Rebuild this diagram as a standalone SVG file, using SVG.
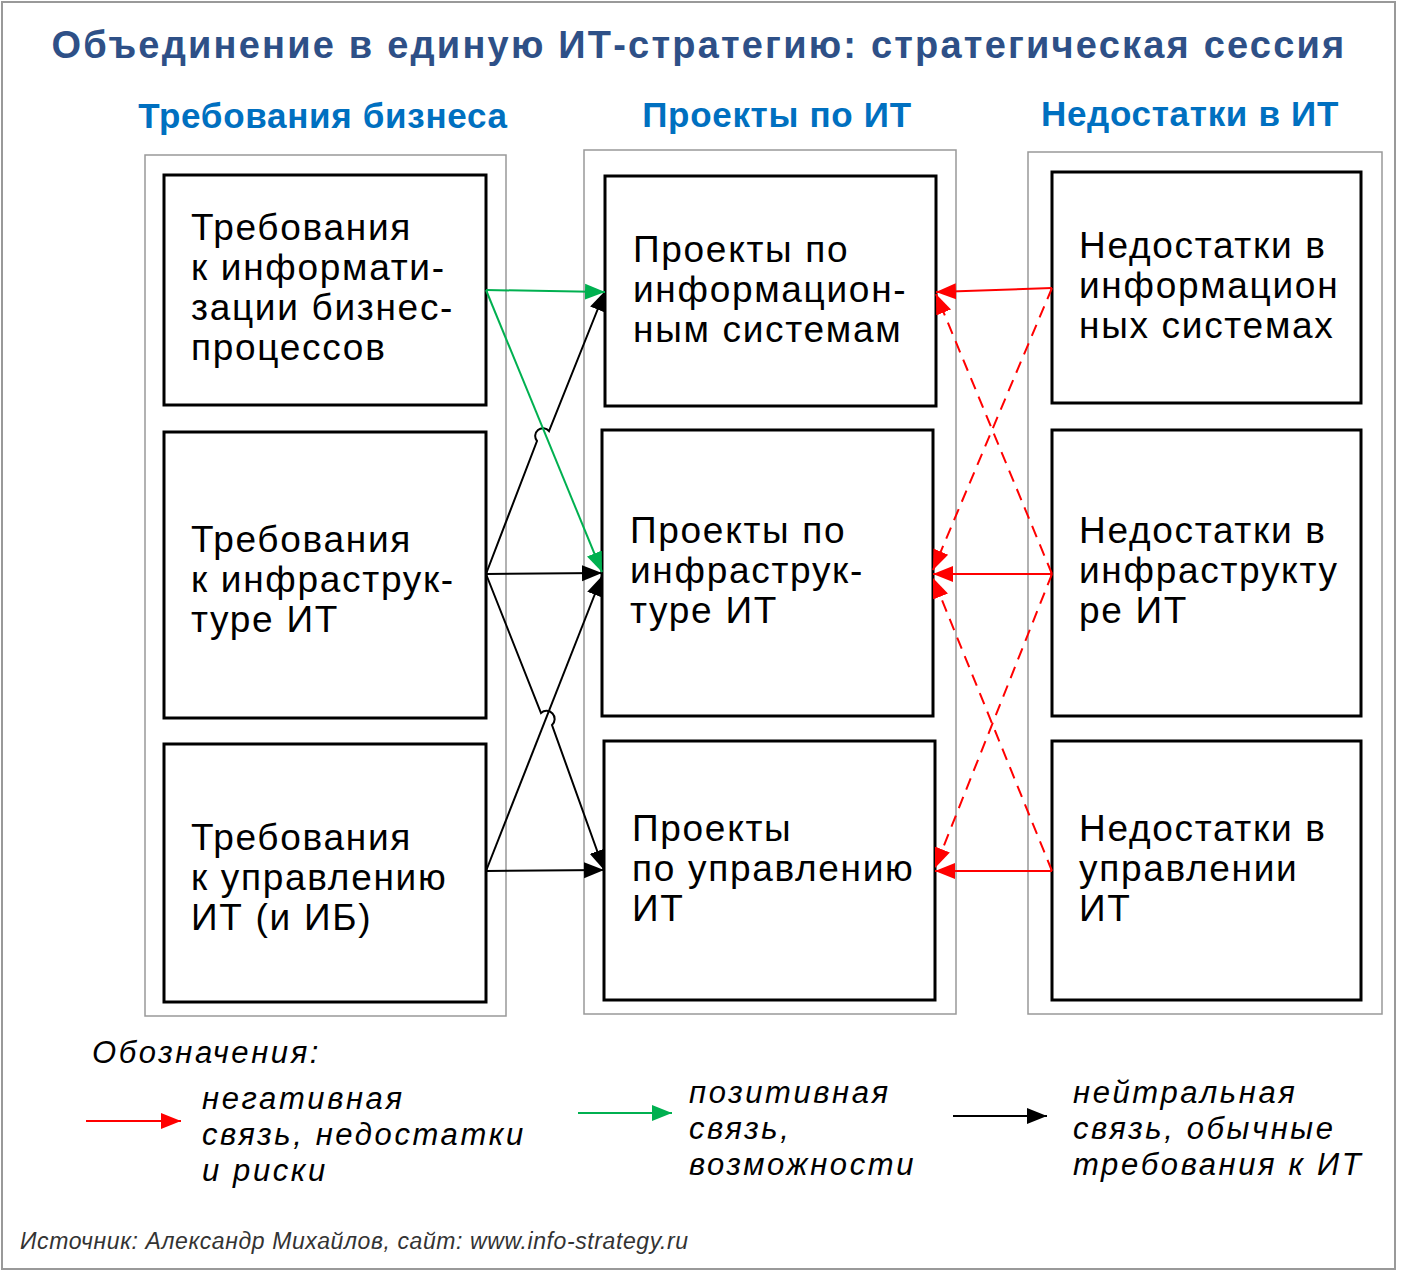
<svg xmlns="http://www.w3.org/2000/svg" width="1410" height="1272" viewBox="0 0 1410 1272">
<style>
.box{fill:#fff;stroke:#000;stroke-width:3}
.col{fill:#fff;stroke:#999;stroke-width:1.5}
.t{font-family:"Liberation Sans",Arial,sans-serif;font-size:37px;letter-spacing:1.7px;fill:#000}
.h{font-family:"Liberation Sans",Arial,sans-serif;font-size:35px;letter-spacing:0.7px;font-weight:bold;fill:#0070C0}
.lg{font-family:"Liberation Sans",Arial,sans-serif;font-size:31px;letter-spacing:2.6px;font-style:italic;fill:#000}
.k{stroke:#000;stroke-width:2;fill:none}
.g{stroke:#00B050;stroke-width:2;fill:none}
.r{stroke:#FF0000;stroke-width:2;fill:none}
.rd{stroke:#FF0000;stroke-width:2;fill:none;stroke-dasharray:12,8}
</style>
<defs>
<marker id="ag" viewBox="0 0 10 10" refX="10" refY="5" markerWidth="20" markerHeight="20" orient="auto" markerUnits="userSpaceOnUse"><path d="M0,1 L10,5 L0,9 z" fill="#00B050"/></marker>
<marker id="ab" viewBox="0 0 10 10" refX="10" refY="5" markerWidth="20" markerHeight="20" orient="auto" markerUnits="userSpaceOnUse"><path d="M0,1 L10,5 L0,9 z" fill="#000"/></marker>
<marker id="ar" viewBox="0 0 10 10" refX="10" refY="5" markerWidth="20" markerHeight="20" orient="auto" markerUnits="userSpaceOnUse"><path d="M0,1 L10,5 L0,9 z" fill="#FF0000"/></marker>
</defs>
<rect x="0" y="0" width="1410" height="1272" fill="#fff"/>
<rect x="2" y="2" width="1393" height="1267" fill="none" stroke="#999" stroke-width="2"/>
<text x="699" y="58" text-anchor="middle" style="font-family:'Liberation Sans',Arial,sans-serif;font-size:38px;letter-spacing:2.2px;font-weight:bold;fill:#2E5087">Объединение в единую ИТ-стратегию: стратегическая сессия</text>
<text x="323" y="128" text-anchor="middle" class="h">Требования бизнеса</text>
<text x="777" y="127" text-anchor="middle" class="h">Проекты по ИТ</text>
<text x="1190" y="126" text-anchor="middle" class="h">Недостатки в ИТ</text>
<rect class="col" x="145" y="155" width="361" height="861"/>
<rect class="col" x="584" y="150" width="372" height="864"/>
<rect class="col" x="1028" y="152" width="354" height="862"/>
<g id="L1"><rect class="box" x="164" y="175" width="322" height="230"/><text class="t" x="191" y="240">Требования</text><text class="t" x="191" y="280">к информати-</text><text class="t" x="191" y="320">зации бизнес-</text><text class="t" x="191" y="360">процессов</text></g>
<g id="L2"><rect class="box" x="164" y="432" width="322" height="286"/><text class="t" x="191" y="552">Требования</text><text class="t" x="191" y="592">к инфраструк-</text><text class="t" x="191" y="632">туре ИТ</text></g>
<g id="L3"><rect class="box" x="164" y="744" width="322" height="258"/><text class="t" x="191" y="850">Требования</text><text class="t" x="191" y="890">к управлению</text><text class="t" x="191" y="930">ИТ (и ИБ)</text></g>
<g id="M1"><rect class="box" x="605" y="176" width="331" height="230"/><text class="t" x="633" y="262">Проекты по</text><text class="t" x="633" y="302">информацион-</text><text class="t" x="633" y="342">ным системам</text></g>
<g id="M2"><rect class="box" x="602" y="430" width="331" height="286"/><text class="t" x="630" y="543">Проекты по</text><text class="t" x="630" y="583">инфраструк-</text><text class="t" x="630" y="623">туре ИТ</text></g>
<g id="M3"><rect class="box" x="604" y="741" width="331" height="259"/><text class="t" x="632" y="841">Проекты</text><text class="t" x="632" y="881">по управлению</text><text class="t" x="632" y="921">ИТ</text></g>
<g id="R1"><rect class="box" x="1052" y="172" width="309" height="231"/><text class="t" x="1079" y="258">Недостатки в</text><text class="t" x="1079" y="298">информацион</text><text class="t" x="1079" y="338">ных системах</text></g>
<g id="R2"><rect class="box" x="1052" y="430" width="309" height="286"/><text class="t" x="1079" y="543">Недостатки в</text><text class="t" x="1079" y="583">инфраструкту</text><text class="t" x="1079" y="623">ре ИТ</text></g>
<g id="R3"><rect class="box" x="1052" y="741" width="309" height="259"/><text class="t" x="1079" y="841">Недостатки в</text><text class="t" x="1079" y="881">управлении</text><text class="t" x="1079" y="921">ИТ</text></g>
<g id="connectors">
<path class="k" d="M486,574 L537,441 A7,7 0 0 1 549,431 L605,291" marker-end="url(#ab)"/>
<path class="k" d="M486,574 L602,573" marker-end="url(#ab)"/>
<path class="k" d="M486,574 L541,713 A7,7 0 0 1 552,725 L604,870" marker-end="url(#ab)"/>
<path class="k" d="M486,871 L602,576" marker-end="url(#ab)"/>
<path class="k" d="M486,871 L604,870" marker-end="url(#ab)"/>
<path class="g" d="M486,290 L605,292" marker-end="url(#ag)"/>
<path class="g" d="M486,290 L602,572" marker-end="url(#ag)"/>
<path class="r" d="M1052,288 L936,292" marker-end="url(#ar)"/>
<path class="r" d="M1052,574 L933,574" marker-end="url(#ar)"/>
<path class="r" d="M1052,871 L935,871" marker-end="url(#ar)"/>
<path class="rd" d="M1052,288 L933,570" marker-end="url(#ar)"/>
<path class="rd" d="M1052,574 L936,294" marker-end="url(#ar)"/>
<path class="rd" d="M1052,574 L935,868" marker-end="url(#ar)"/>
<path class="rd" d="M1052,871 L933,578" marker-end="url(#ar)"/>
<path class="r" d="M86,1121 L181,1121" marker-end="url(#ar)"/>
<path class="g" d="M578,1113 L672,1113" marker-end="url(#ag)"/>
<path class="k" d="M953,1116 L1047,1116" marker-end="url(#ab)"/>
</g>
<g id="legend">
<text class="lg" x="92" y="1063">Обозначения:</text>
<text class="lg" x="202" y="1109">негативная</text><text class="lg" x="202" y="1145">связь, недостатки</text><text class="lg" x="202" y="1181">и риски</text>
<text class="lg" x="689" y="1103">позитивная</text><text class="lg" x="689" y="1139">связь,</text><text class="lg" x="689" y="1175">возможности</text>
<text class="lg" x="1073" y="1103">нейтральная</text><text class="lg" x="1073" y="1139">связь, обычные</text><text class="lg" x="1073" y="1175">требования к ИТ</text>
<text x="20" y="1249" style="font-family:'Liberation Sans',Arial,sans-serif;font-size:23px;letter-spacing:0.6px;font-style:italic;fill:#333">Источник: Александр Михайлов, сайт: www.info-strategy.ru</text>
</g>
</svg>
